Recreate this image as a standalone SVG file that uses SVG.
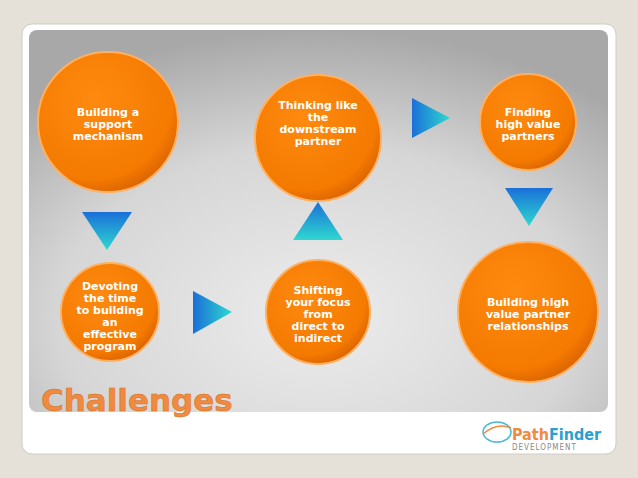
<svg xmlns="http://www.w3.org/2000/svg" width="638" height="478" viewBox="0 0 638 478">
<defs>
<radialGradient id="panel" cx="0.5" cy="0.75" r="0.75"><stop offset="0" stop-color="#ececec"/><stop offset="0.6" stop-color="#d6d6d6"/><stop offset="1" stop-color="#a8a8a8"/></radialGradient>
<radialGradient id="orb" cx="0.4" cy="0.35" r="0.7"><stop offset="0" stop-color="#ff8a10"/><stop offset="0.8" stop-color="#f47a00"/><stop offset="1" stop-color="#d86000"/></radialGradient>
<linearGradient id="tri" x1="0" y1="0" x2="0" y2="1"><stop offset="0" stop-color="#1a6fd8"/><stop offset="1" stop-color="#2ed8d0"/></linearGradient>
<linearGradient id="triL" x1="0" y1="0" x2="1" y2="0"><stop offset="0" stop-color="#2ed8d0"/><stop offset="1" stop-color="#1a6fd8"/></linearGradient>
<linearGradient id="triR" x1="0" y1="0" x2="1" y2="0"><stop offset="0" stop-color="#1a6fd8"/><stop offset="1" stop-color="#2ed8d0"/></linearGradient>
</defs>
<style>
.c{fill:url(#orb);stroke:#ffb060;stroke-width:2}
.t{font-family:"DejaVu Sans",sans-serif;font-weight:bold;font-size:11px;fill:#fff;text-anchor:middle}
</style>
<rect width="638" height="478" fill="#e6e1d8"/>
<rect x="22" y="24" width="594" height="430" rx="10" fill="#fff" stroke="#d0ccc4"/>
<rect x="29" y="30" width="579" height="382" rx="8" fill="url(#panel)"/>
<g id="n1"><circle class="c" cx="108" cy="122" r="70"/><text class="t" y="116"><tspan x="108">Building a</tspan><tspan x="108" dy="12">support</tspan><tspan x="108" dy="12">mechanism</tspan></text></g>
<g id="n2"><circle class="c" cx="318" cy="138" r="63"/><text class="t" y="109"><tspan x="318">Thinking like</tspan><tspan x="318" dy="12">the</tspan><tspan x="318" dy="12">downstream</tspan><tspan x="318" dy="12">partner</tspan></text></g>
<g id="n3"><circle class="c" cx="528" cy="122" r="48"/><text class="t" y="116"><tspan x="528">Finding</tspan><tspan x="528" dy="12">high value</tspan><tspan x="528" dy="12">partners</tspan></text></g>
<g id="n4"><circle class="c" cx="110" cy="312" r="49"/><text class="t" y="290"><tspan x="110">Devoting</tspan><tspan x="110" dy="12">the time</tspan><tspan x="110" dy="12">to building</tspan><tspan x="110" dy="12">an</tspan><tspan x="110" dy="12">effective</tspan><tspan x="110" dy="12">program</tspan></text></g>
<g id="n5"><circle class="c" cx="318" cy="312" r="52"/><text class="t" y="294"><tspan x="318">Shifting</tspan><tspan x="318" dy="12">your focus</tspan><tspan x="318" dy="12">from</tspan><tspan x="318" dy="12">direct to</tspan><tspan x="318" dy="12">indirect</tspan></text></g>
<g id="n6"><circle class="c" cx="528" cy="312" r="70"/><text class="t" y="306"><tspan x="528">Building high</tspan><tspan x="528" dy="12">value partner</tspan><tspan x="528" dy="12">relationships</tspan></text></g>
<g id="connectors">
<polygon points="82,212 132,212 107,250" fill="url(#tri)"/>
<polygon points="318,202 343,240 293,240" fill="url(#tri)"/>
<polygon points="412,98 450,118 412,138" fill="url(#triR)"/>
<polygon points="505,188 553,188 529,226" fill="url(#tri)"/>
<polygon points="193,291 232,312 193,334" fill="url(#triR)"/>
</g>
<text x="41" y="411" font-family="Verdana,'DejaVu Sans',sans-serif" font-weight="bold" font-size="31" fill="#f08a40" stroke="#d07020" stroke-width="0.5">Challenges</text>
<g id="logo">
<ellipse cx="497" cy="432" rx="14" ry="10" fill="none" stroke="#4ab8d8" stroke-width="1.5"/>
<path d="M483 434 Q497 422 511 428" fill="none" stroke="#f08a40" stroke-width="1.5"/>
<text x="512" y="440" font-family="'DejaVu Sans Condensed',sans-serif" font-weight="bold" font-size="16" fill="#f08a40">Path<tspan fill="#2a9fd0">Finder</tspan></text>
<text x="512" y="450" font-family="'DejaVu Sans Condensed',sans-serif" font-size="8" fill="#888" letter-spacing="1">DEVELOPMENT</text>
</g>
</svg>
